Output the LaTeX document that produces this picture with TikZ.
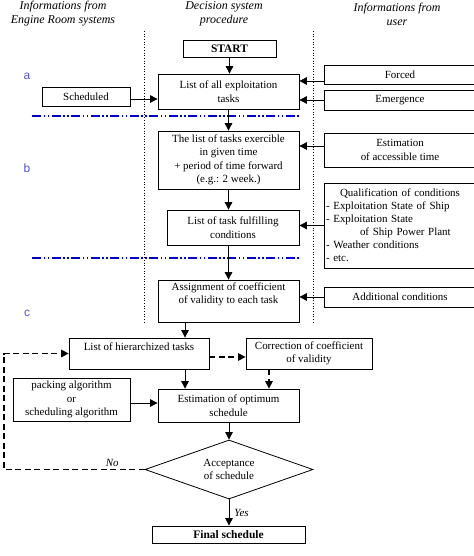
\documentclass[tikz,border=0pt]{standalone}
\usepackage{fontspec}
\setmainfont{Liberation Serif}
\setsansfont{Liberation Sans}
\usetikzlibrary{arrows.meta,shapes.geometric}
\begin{document}
\begin{tikzpicture}[x=1bp,y=-1bp,
  box/.style={draw, line width=0.8bp, inner sep=0pt, align=center, font=\fontsize{11}{13.5}\selectfont},
  txt/.style={inner sep=0pt, align=center, font=\fontsize{11}{13.5}\selectfont},
  boldtxt/.style={font=\bfseries\fontsize{11.5}{13}\selectfont},
  arr/.style={line width=0.9bp, -{Triangle[length=7.5bp,width=7.5bp]}},
  darr/.style={line width=1.3bp, dash pattern=on 6bp off 3.5bp, -{Triangle[length=7.5bp,width=7.5bp]}},
  sepline/.style={blue!80!black, line width=1.2bp, dash pattern=on 9bp off 2.5bp on 1.5bp off 2.5bp on 1.5bp off 2.5bp},
  vline/.style={dotted, line width=0.7bp},
  hdr/.style={font=\fontsize{12}{14}\selectfont\itshape, align=center, inner sep=0pt},
  lab/.style={font=\sffamily\fontsize{12}{14}\selectfont, text=blue!60!white!80!black, inner sep=0pt},
  ital/.style={font=\fontsize{11}{13}\selectfont\itshape, inner sep=1bp}
]
\useasboundingbox (0,0) rectangle (474,556);

% headers
\node[hdr] (h1) at (63,14) {Informations from\\Engine Room systems};
\node[hdr] (h2) at (224,13.5) {Decision system\\procedure};
\node[hdr] (h3) at (397,14) {Informations from\\user};

% column separators
\draw[vline] (144,31) -- (144,323);
\draw[vline] (313,31) -- (313,323);

% stage separators
\draw[sepline] (32,116) -- (299,116);
\draw[sepline] (32,258) -- (299,258);

% stage labels
\node[lab] (la) at (27,76) {a};
\node[lab] (lb) at (27,168) {b};
\node[lab] (lc) at (27,313) {c};

% boxes
\node[box, boldtxt, minimum width=93bp, minimum height=17bp] (start) at (229.5,48.5) {START};
\node[box, minimum width=141bp, minimum height=35bp] (list) at (228.5,91.5) {List of all exploitation\\tasks};
\node[box, minimum width=152bp, minimum height=19bp] (forced) at (400,74.5) {Forced};
\node[box, minimum width=152bp, minimum height=20bp] (emerg) at (400,100) {Emergence};
\node[box, minimum width=88bp, minimum height=19bp] (sched) at (86,96.5) {Scheduled};
\node[box, minimum width=141bp, minimum height=58bp] (tasks) at (228.5,160) {The list of tasks exercible\\in given time\\+ period of time forward\\(e.g.: 2 week.)};
\node[box, minimum width=152bp, minimum height=34bp] (access) at (400,150) {Estimation\\of accessible time};
\node[box, minimum width=132bp, minimum height=35bp] (fulfil) at (233,227.5) {List of task fulfilling\\conditions};
\node[box, text width=148bp, inner xsep=2bp, minimum height=85bp, align=left, font=\fontsize{11}{13}\selectfont] (qual) at (400,225.5) {\makebox[\linewidth][c]{Qualification of conditions}\\- Exploitation State of Ship\\- Exploitation State\\\hspace*{34bp}of Ship Power Plant\\- Weather conditions\\- etc.};
\node[box, minimum width=141bp, minimum height=42bp] (assign) at (228.5,301) {};
\node[txt] (assignt) at (228.5,294.5) {Assignment of coefficient\\of validity to each task};
\node[box, minimum width=152bp, minimum height=20bp] (addc) at (400,297) {Additional conditions};
\node[box, minimum width=140bp, minimum height=31bp] (hier) at (139,353.5) {};
\node[txt] (hiert) at (139,347) {List of hierarchized tasks};
\node[box, minimum width=126bp, minimum height=31bp] (corr) at (309,353.5) {Correction of coefficient\\of validity};
\node[box, minimum width=117bp, minimum height=43bp] (pack) at (71.5,399.5) {packing algorithm\\or\\scheduling algorithm};
\node[box, minimum width=141bp, minimum height=33bp] (opt) at (228.5,405.5) {Estimation of optimum\\schedule};
\node[box, shape=diamond, aspect=2.8, minimum width=168bp, minimum height=59bp] (acc) at (229,469.5) {Acceptance\\of schedule};
\node[box, boldtxt, minimum width=153bp, minimum height=17bp] (final) at (228.5,534.5) {Final schedule};

% helper coordinates
\coordinate (yF) at (0,81);
\coordinate (yS) at (0,99);
\coordinate (yA) at (0,146);
\coordinate (xH) at (185,0);
\coordinate (yD) at (0,357);
\coordinate (xC) at (269,0);
\coordinate (yP) at (0,403);
\coordinate (xL) at (4,0);

% connectors
\draw[arr] (start.south) -- (start.south |- list.north);
\draw[arr] (forced.west |- yF) -- (list.east |- yF);
\draw[arr] (emerg.west) -- (emerg.west -| list.east);
\draw[arr] (sched.east |- yS) -- (list.west |- yS);
\draw[arr] (list.south) -- (list.south |- tasks.north);
\draw[arr] (access.west |- yA) -- (tasks.east |- yA);
\draw[arr] (tasks.south) -- (tasks.south |- fulfil.north);
\draw[arr] (qual.west) -- (qual.west -| fulfil.east);
\draw[arr] (fulfil.south -| tasks.south) -- (tasks.south |- assign.north);
\draw[arr] (addc.west) -- (addc.west -| assign.east);
\draw[arr] (assign.south -| xH) -- (hier.north -| xH);
\draw[darr] (hier.east |- yD) -- (corr.west |- yD);
\draw[arr] (hier.south -| xH) -- (opt.north -| xH);
\draw[darr] (corr.south -| xC) -- (opt.north -| xC);
\draw[arr] (pack.east |- yP) -- (opt.west |- yP);
\draw[arr] (opt.south -| acc.north) -- (acc.north);
\draw[arr] (acc.south) -- node[ital, right=4bp] (yes) {Yes} (acc.south |- final.north);
\draw[darr] (acc.west) -- node[ital, pos=0.23, above=1bp] (no) {No} (acc.west -| xL) -- (hier.west -| xL) -- (hier.west);
\end{tikzpicture}
\end{document}
